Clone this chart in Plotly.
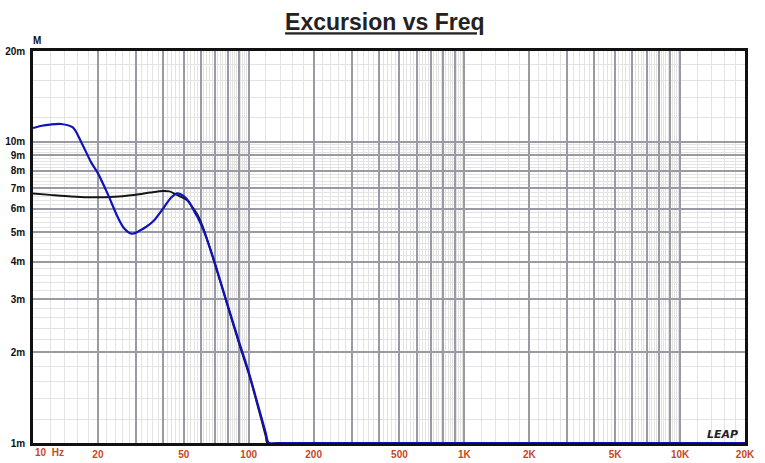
import plotly.graph_objects as go

# ---------------- data ----------------
freq_blue = [10, 11, 12, 13.5, 15.3, 16.7, 18.6, 19.9, 22.2, 24.7, 26.5, 28.7, 31, 33.5,
             36.4, 40.5, 43.5, 46.5, 50, 53, 55, 57.9, 62, 66.7, 70, 80, 90, 100, 110,
             120, 124, 140, 200, 20000]
exc_blue_mm = [11.1, 11.3, 11.4, 11.45, 11.15, 10.0, 8.54, 7.91, 6.71, 5.62, 5.15, 4.95,
               5.05, 5.22, 5.48, 6.06, 6.5, 6.74, 6.6, 6.3, 6.0, 5.62, 5.05, 4.36, 3.92,
               2.86, 2.18, 1.72, 1.35, 1.08, 1.0, 1.0, 1.0, 1.0]

freq_black = [10, 12, 15, 18, 20, 25, 30, 35, 40, 43, 46, 50, 52, 55, 57.9, 62, 66.7, 70,
              80, 90, 100, 110, 120, 122, 140, 200, 20000]
exc_black_mm = [6.73, 6.66, 6.58, 6.54, 6.54, 6.58, 6.67, 6.78, 6.86, 6.84, 6.68, 6.5,
                6.38, 6.05, 5.72, 5.1, 4.34, 3.88, 2.84, 2.15, 1.70, 1.33, 1.05, 1.0, 1.0,
                1.0, 1.0]

x_major_vals = [m * 10 ** d for d in range(1, 4) for m in range(1, 10)] + [10000, 20000]
x_label_map = {20: "20", 50: "50", 100: "100", 200: "200", 500: "500", 1000: "1K",
               2000: "2K", 5000: "5K", 10000: "10K", 20000: "20K"}
y_major_vals = [m * 1e-3 for m in range(1, 11)] + [0.02]
y_labels = ["1m", "2m", "3m", "4m", "5m", "6m", "7m", "8m", "9m", "10m", "20m"]

# minor grid: steps of 0.2 within each unit step
steps = [1 + k * 0.2 for k in range(45)]
steps = [s for s in steps if abs(s - round(s)) > 1e-6]
x_minor_vals = [s * 10 ** d for d in range(1, 5) for s in steps if s * 10 ** d <= 20000]
y_minor_vals = [s * 1e-3 for s in steps] + [s * 1e-3 * 10 for s in steps if s < 2]

fig = go.Figure()
fig.add_trace(go.Scatter(x=freq_black, y=[v / 1000 for v in exc_black_mm], mode="lines",
                         line=dict(color="#151515", width=1.9, shape="spline", smoothing=0.8),
                         hoverinfo="skip", cliponaxis=False))
fig.add_trace(go.Scatter(x=freq_blue, y=[v / 1000 for v in exc_blue_mm], mode="lines",
                         line=dict(color="#1212bb", width=2.2, shape="spline", smoothing=0.8),
                         hoverinfo="skip", cliponaxis=False))

tick_font_x = dict(family="Liberation Sans, Arial", size=10, color="#c8461e")
tick_font_y = dict(family="Liberation Sans, Arial", size=10, color="#111111")

fig.update_layout(
    width=765, height=463,
    margin=dict(l=33, r=20, t=51, b=20),
    paper_bgcolor="white", plot_bgcolor="white",
    showlegend=False,
    title=dict(text="<b><u>Excursion vs Freq</u></b>", x=0.503, xanchor="center",
               y=0.952, yanchor="middle",
               font=dict(family="Liberation Sans, Arial", size=23, color="#222222")),
    xaxis=dict(type="log", range=[1, 4.30103], showline=True, mirror=True,
               linecolor="#111111", linewidth=2.5, automargin=False, tickangle=0,
               layer="below traces",
               tickmode="array", tickvals=x_major_vals,
               ticktext=["<b>%s</b>" % x_label_map.get(v, "") for v in x_major_vals],
               tickfont=tick_font_x, ticks="", showgrid=True,
               gridcolor="#9a9aa4", gridwidth=1.6, zeroline=False,
               minor=dict(tickmode="array", tickvals=x_minor_vals, showgrid=True,
                          gridcolor="#e3e3e3", gridwidth=1, ticks="")),
    yaxis=dict(type="log", range=[-3, -1.69897], showline=True, mirror=True,
               linecolor="#111111", linewidth=2.5, automargin=False,
               layer="below traces",
               tickmode="array", tickvals=y_major_vals,
               ticktext=["<b>%s</b>" % t for t in y_labels],
               tickfont=tick_font_y, ticks="", showgrid=True,
               gridcolor="#9a9aa4", gridwidth=1.6, zeroline=False,
               ticklabelstandoff=3,
               minor=dict(tickmode="array", tickvals=y_minor_vals, showgrid=True,
                          gridcolor="#e3e3e3", gridwidth=1, ticks="")),
    annotations=[
        dict(text="<b>10  Hz</b>", x=1, xref="x", y=0, yref="paper", xanchor="left",
             yanchor="top", yshift=-2, showarrow=False, font=tick_font_x),
        dict(text="<b>M</b>", x=0.005, xref="paper", y=1, yref="paper", xanchor="center",
             yanchor="bottom", yshift=3, showarrow=False,
             font=dict(family="Liberation Sans, Arial", size=10, color="#111111")),
        dict(text="<b><i>LEAP</i></b>", x=0.993, xref="paper", y=0.0, yref="paper",
             xanchor="right", yanchor="bottom", showarrow=False,
             font=dict(family="DejaVu Sans, Arial", size=11, color="#222222")),
    ],
)

fig.write_html("out.html", config={"displayModeBar": False},
               post_script="document.body.style.margin='0px';document.body.style.overflow='hidden';")
